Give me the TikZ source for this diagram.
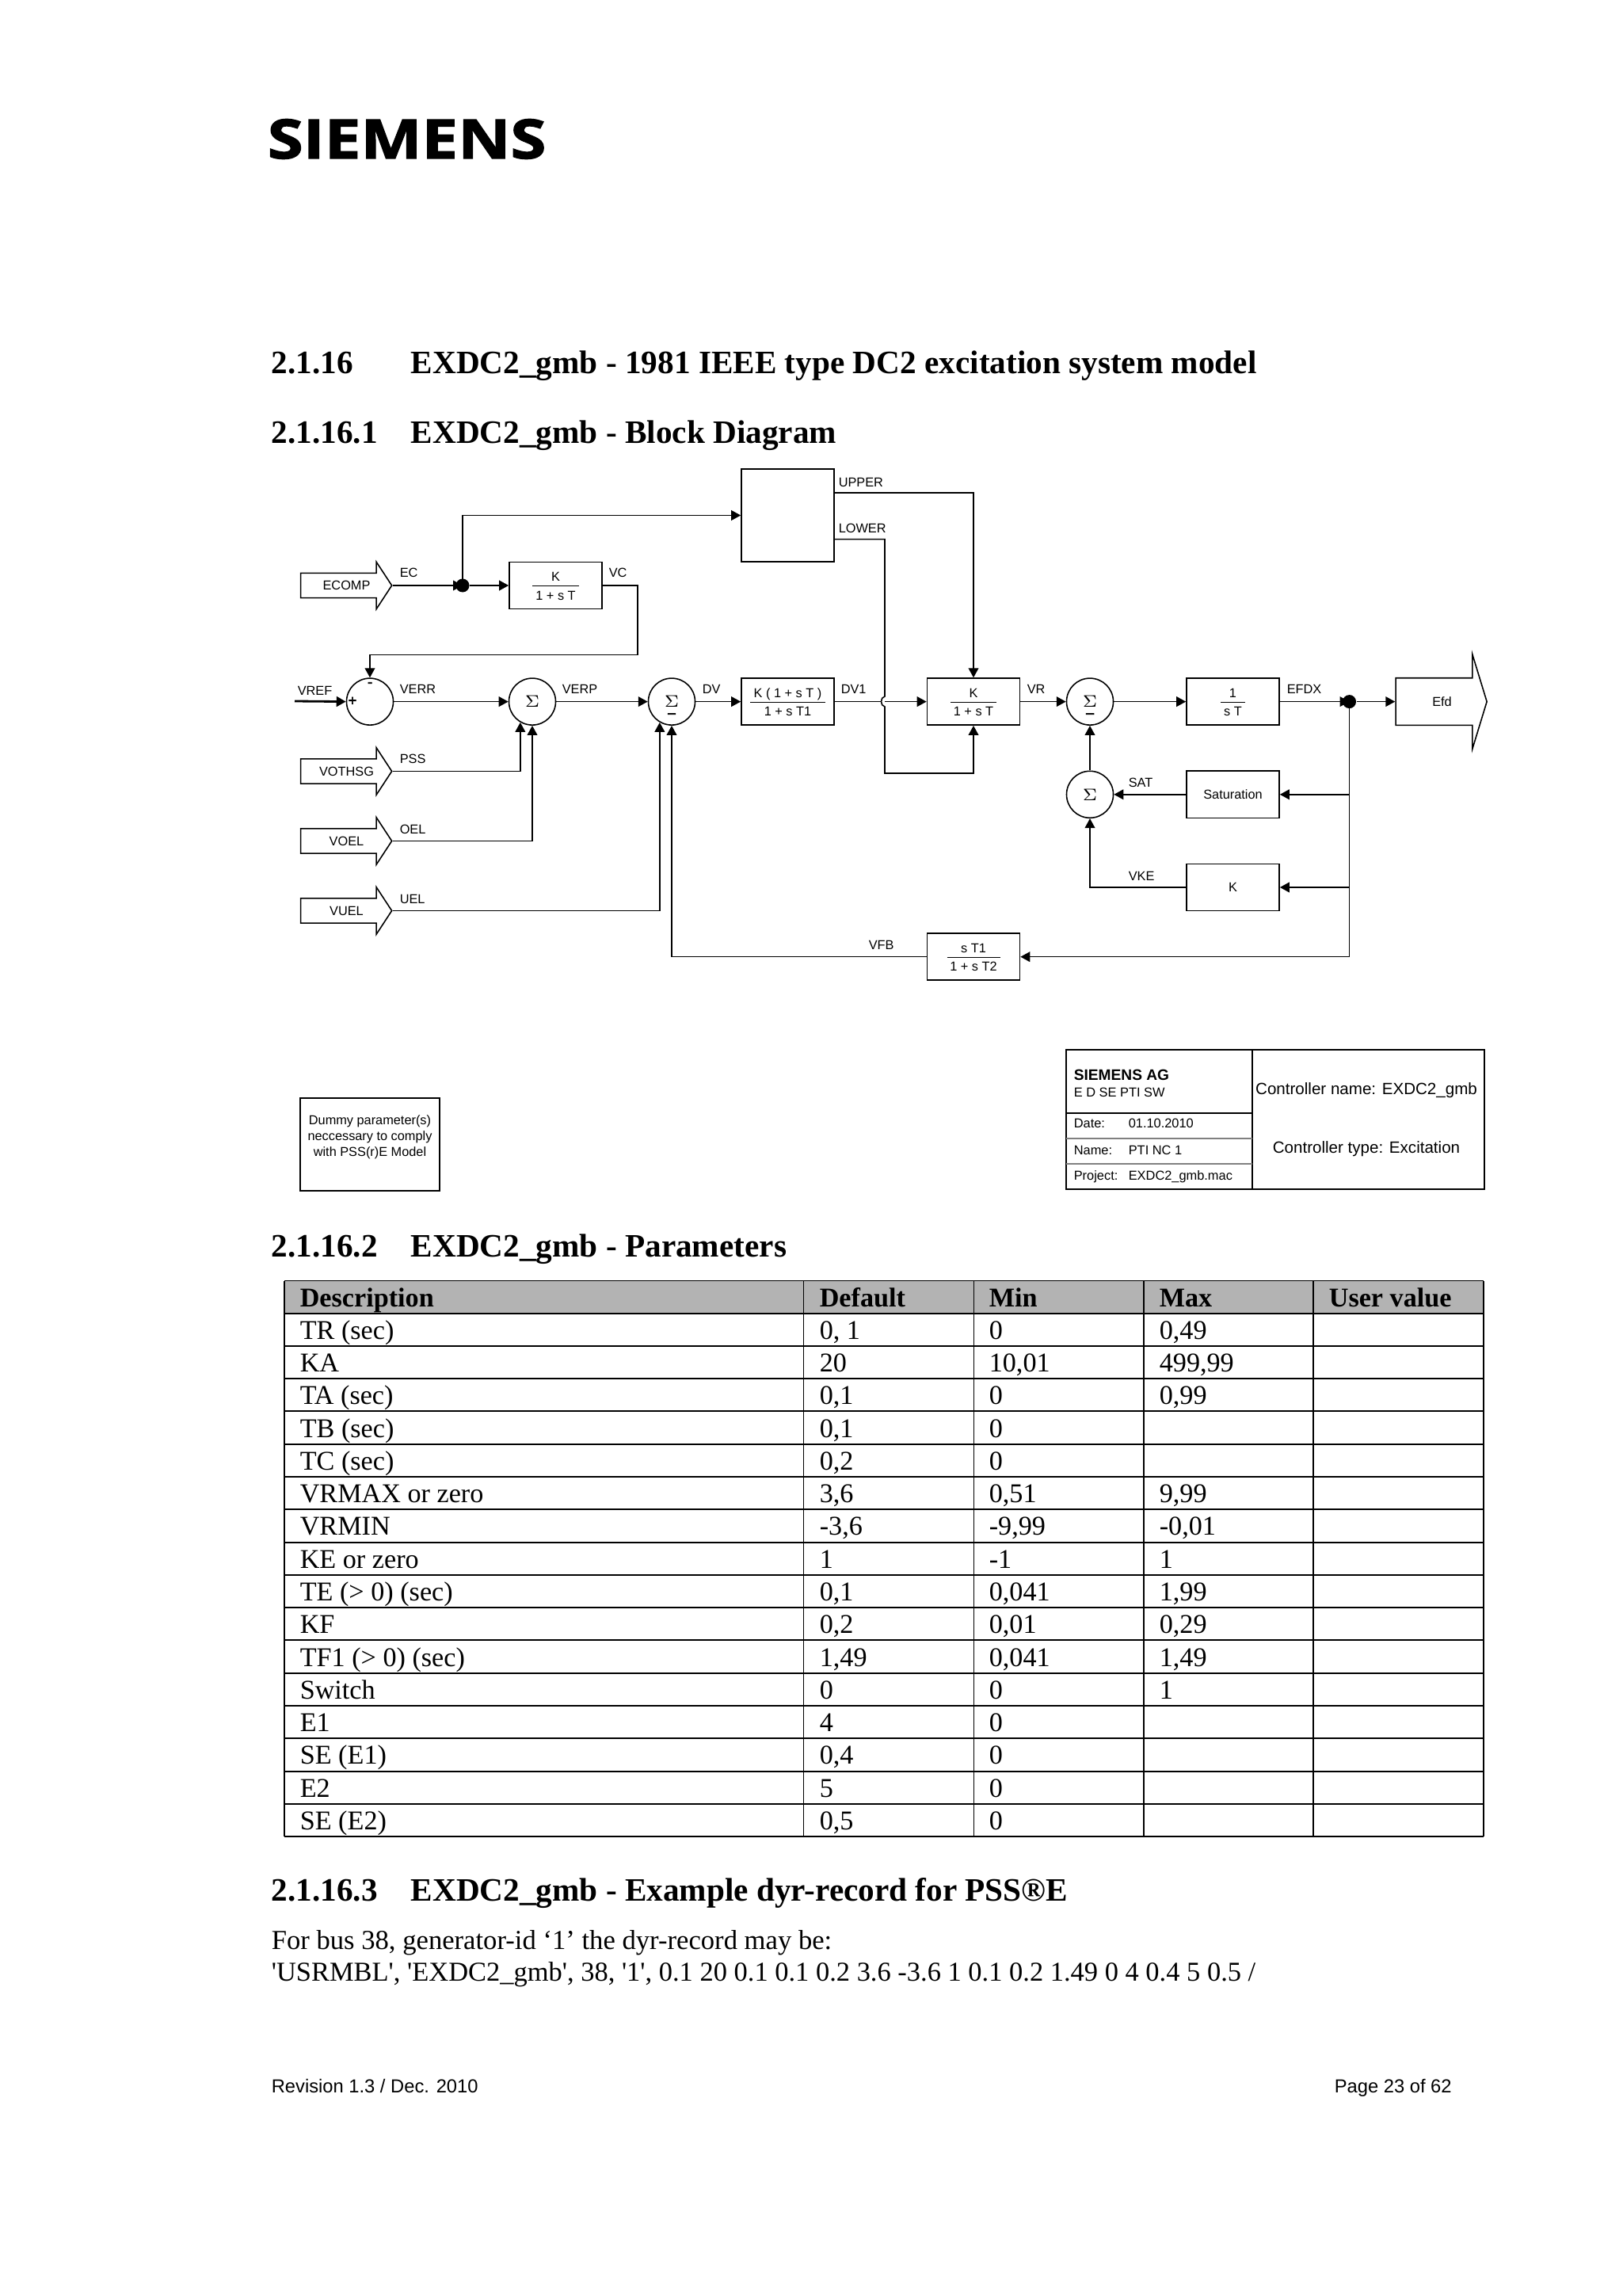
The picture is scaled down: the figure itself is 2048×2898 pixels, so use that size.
\documentclass[tikz,border=0pt]{standalone}
\usepackage{fontspec}
\setmainfont{Liberation Serif}
\setsansfont{Liberation Sans}
\newfontfamily\plainserif{Liberation Serif}
\newfontfamily\logofont[FakeStretch=1.19,FakeBold=2]{Open Sans}
\newfontfamily\signfont[FakeBold=4]{Liberation Sans}
\usetikzlibrary{arrows.meta, positioning, calc, shapes.arrows}
\definecolor{headgray}{HTML}{B3B3B3}

\newcommand{\blockratio}[3]{\vbox{\hsize=#1\offinterlineskip
  \kern3.56pt\hbox to #1{\hss\smash{#2}\hss}\kern1.56pt\hrule height .42pt\kern4.7pt
  \hbox to #1{\hss\smash{#3}\hss}}}

\begin{document}
\begin{tikzpicture}[
    x=0.01cm, y=-0.01cm,
    line width=0.45pt,
    sig/.style={font=\sffamily\fontsize{4.64}{5.8}\selectfont},
    lab/.style={sig, anchor=base west, inner sep=0pt},
    block/.style={draw, sig, inner sep=0pt, minimum width=1.17cm, minimum height=0.59cm},
    summer/.style={draw, circle, inner sep=0pt, minimum size=0.59cm,
                   font=\plainserif\fontsize{6}{7}\selectfont},
    joint/.style={fill=black, circle, inner sep=0pt, minimum size=0.17cm},
    port/.style={draw, sig, single arrow, inner xsep=0pt, inner ysep=0.089cm, text height=0.117cm, text depth=0pt,
                 minimum height=1.15cm, single arrow head extend=0.143cm, single arrow tip angle=113.5,
                 execute at begin node=\kern0.11cm\relax},
    signmark/.style={inner sep=0pt, font=\signfont\fontsize{5}{6}\selectfont},
    head/.style={anchor=base west, inner sep=0pt, font=\bfseries\fontsize{11.73}{13}\selectfont},
    cell/.style={anchor=base west, inner sep=0pt, font=\fontsize{9.72}{11}\selectfont},
    foot/.style={anchor=base west, inner sep=0pt, font=\sffamily\fontsize{6.75}{8}\selectfont},
    stamp/.style={anchor=base west, inner sep=0pt, font=\sffamily\fontsize{4.66}{5.8}\selectfont},
    >={Triangle[length=3.4pt,width=3.6pt]},
]
\useasboundingbox (0,0) rectangle (2048,2898);

% --- page head -------------------------------------------------------------
\node[anchor=base west, inner sep=0pt, font=\logofont\bfseries\fontsize{19.5}{20}\selectfont] (logo) at (337,200) {SIEMENS};
\node[head] (secnum)  at (342,471.5) {2.1.16};
\node[head] (sectxt)  at (518,471.5) {EXDC2\_gmb - 1981 IEEE type DC2 excitation system model};
\node[head] (diagnum) at (342,559.5) {2.1.16.1};
\node[head] (diagtxt) at (518,559.5) {EXDC2\_gmb - Block Diagram};

% --- block diagram: blocks ---------------------------------------------------
\node[port] (ecomp)  at (432,739) {ECOMP};
\node[port] (vothsg) at (432,973.5) {VOTHSG};
\node[port] (voel)   at (432,1061.5) {VOEL};
\node[port] (vuel)   at (432,1149.5) {VUEL};
\node[port, inner ysep=0.2315cm, single arrow head extend=0.3cm, single arrow tip angle=146] (efd) at (1815,885.6) {Efd};

\node[block, minimum height=1.17cm] (limiter) at (994.5,650.5) {};
\node[block] (kvc)  at (701.5,739) {\blockratio{0.58cm}{K}{1 + s T}};
\node[block] (lead) at (994.5,885.6) {\blockratio{0.94cm}{K ( 1 + s T )}{1 + s T1}};
\node[block] (kreg) at (1229,885.6) {\blockratio{0.58cm}{K}{1 + s T}};
\node[block] (intg) at (1556.5,885.6) {\blockratio{0.31cm}{1}{s T}};
\node[block] (sat)  at (1556.5,1002.8) {Saturation};
\node[block] (kexc) at (1556.5,1120) {K};
\node[block] (fbk)  at (1229,1207.7) {\blockratio{0.67cm}{s T1}{1 + s T2}};

\node[summer] (verr) at (467,885.6) {};
\node[summer] (sumA) at (672,885.6) {$\Sigma$};
\node[summer] (sumB) at (848,885.6) {$\Sigma$};
\node[summer] (sumC) at (1376,885.6) {$\Sigma$};
\node[summer] (sumD) at (1376,1002.8) {$\Sigma$};
\node[signmark] (mminus) at (467,864) {-};
\node[signmark] (mplus)  at (445,885) {+};
\node[signmark] (mB)     at (848,903) {–};
\node[signmark] (mC)     at (1376,903) {–};

\node[joint] (ecdot)  at (584,739) {};
\node[joint] (efddot) at (1703.5,885.6) {};

% --- block diagram: connectors -----------------------------------------------
\coordinate (vcturn)  at (805,826.7);
\coordinate (vrefin)  at (372,885);
\coordinate (upout)   at (1053,622);
\coordinate (lowout)  at (1053,680.6);
\coordinate (lowdown) at (1117,680.6);
\coordinate (hoptop)  at (1117,879);
\coordinate (hopbot)  at (1117,892);
\coordinate (lowturn) at (1117,976);
\coordinate (hopin)   at (1113,885.6);
\coordinate (hopout)  at (1117,885.6);

\draw[->] (ecomp.tip) -- (ecdot.center);
\draw[->] (ecdot) -- (kvc);
\draw[->] (ecdot.center) |- (limiter);
\draw[->] (kvc.east) -| (vcturn) -| (verr.north);
\draw[->, line width=0.8pt] (vrefin) -- (verr.west);
\draw[->] (verr) -- (sumA);
\draw[->] (sumA) -- (sumB);
\draw[->] (sumB) -- (lead);
\draw (lead.east) -- (hopin);
\draw[->] (hopout) -- (kreg);
\draw[->] (kreg) -- (sumC);
\draw[->] (sumC) -- (intg);
\draw[->] (intg.east) -- (efddot.center);
\draw[->] (efddot) -- (efd.tail);
\draw[->] (upout) -| (kreg.north);
\draw[->] (lowout) -- (lowdown) -- (hoptop) .. controls (1111,880) and (1111,891) .. (hopbot) -- (lowturn) -| (kreg.south);
\draw[->] (vothsg.tip) -| (sumA.240);
\draw[->] (voel.tip) -| (sumA.south);
\draw[->] (vuel.tip) -| (sumB.240);
\draw[->] (sumD) -- (sumC);
\draw[->] (sat) -- (sumD);
\draw[->] (kexc.west) -| (sumD.south);
\draw[->] (efddot.center) |- (sat.east);
\draw[->] (efddot.center) |- (kexc.east);
\draw[->] (efddot.center) |- (fbk.east);
\draw[->] (fbk.west) -| (sumB.south);

% --- block diagram: signal names ---------------------------------------------
\node[lab] (lec)    at (504,729) {EC};
\node[lab] (lvc)    at (768,729) {VC};
\node[lab] (lupper) at (1058,614.7) {UPPER};
\node[lab] (llower) at (1058,673) {LOWER};
\node[lab] (lvref)  at (375,878) {VREF};
\node[lab] (lverr)  at (504,876) {VERR};
\node[lab] (lverp)  at (709,876) {VERP};
\node[lab] (ldv)    at (886,876) {DV};
\node[lab] (ldvone) at (1061,876) {DV1};
\node[lab] (lvr)    at (1296,876) {VR};
\node[lab] (lefdx)  at (1624,876) {EFDX};
\node[lab] (lpss)   at (504,964) {PSS};
\node[lab] (lsat)   at (1424,994) {SAT};
\node[lab] (loel)   at (504,1052) {OEL};
\node[lab] (lvke)   at (1424,1111) {VKE};
\node[lab] (luel)   at (504,1140) {UEL};
\node[lab] (lvfb)   at (1096,1198) {VFB};

% --- dummy note and title block ----------------------------------------------
\node[draw, sig, minimum width=1.76cm, minimum height=1.17cm] (dummy) at (467,1444.5) {};
\node[sig, inner sep=0pt] (dumA) at (467,1415) {Dummy parameter(s)};
\node[sig, inner sep=0pt] (dumB) at (467,1435) {neccessary to comply};
\node[sig, inner sep=0pt] (dumC) at (467,1455) {with PSS(r)E Model};

\draw[line width=0.7pt] (1346,1325) rectangle (1874,1501);
\draw (1581,1325) -- (1581,1501);
\draw (1346,1405) -- (1581,1405);
\draw[gray] (1346,1437) -- (1581,1437);
\draw[gray] (1346,1469) -- (1581,1469);
\node[stamp, font=\sffamily\bfseries\fontsize{5.45}{6.5}\selectfont] (firm) at (1355,1363) {SIEMENS AG};
\node[stamp] (dept)  at (1355,1384) {E D SE PTI SW};
\node[stamp] (dtag)  at (1355,1423) {Date:};
\node[stamp] (dval)  at (1424,1423) {01.10.2010};
\node[stamp] (ntag)  at (1355,1457) {Name:};
\node[stamp] (nval)  at (1424,1457) {PTI NC 1};
\node[stamp] (ptag)  at (1355,1489) {Project:};
\node[stamp] (pval)  at (1424,1489) {EXDC2\_gmb.mac};
\node[inner sep=0pt, font=\sffamily\fontsize{5.85}{7}\selectfont] (cname) at (1725,1376.5) {Controller name: EXDC2\_gmb};
\node[inner sep=0pt, font=\sffamily\fontsize{5.85}{7}\selectfont] (ctype) at (1725,1450.5) {Controller type: Excitation};

% --- parameter table ---------------------------------------------------------
\node[head] (parnum) at (342,1586) {2.1.16.2};
\node[head] (partxt) at (518,1586) {EXDC2\_gmb - Parameters};
\fill[headgray] (359,1616.5) rectangle (1872.5,1657.6);
\foreach \r in {0,...,17} \draw[line width=0.55pt] (359,{1616.5+41.1*min(\r,1)+41.28*max(\r-1,0)}) -- (1872.5,{1616.5+41.1*min(\r,1)+41.28*max(\r-1,0)});
\foreach \c in {359,1014.5,1229.5,1444,1658,1872.5} \draw[line width=0.55pt] (\c,1616.5) -- (\c,2318);
\foreach \c/\t [count=\i] in {378/Description,1034/Default,1248/Min,1463/Max,1677/User value}
  \node[cell, font=\bfseries\fontsize{9.72}{11}\selectfont] (top\i) at (\c,1649.3) {\t};
\foreach \d/\u/\v/\w [count=\r] in {
    TR (sec)/{0, 1}/0/{0,49}, KA/20/{10,01}/{499,99}, TA (sec)/{0,1}/0/{0,99},
    TB (sec)/{0,1}/0/, TC (sec)/{0,2}/0/, VRMAX or zero/{3,6}/{0,51}/{9,99},
    VRMIN/{-3,6}/{-9,99}/{-0,01}, KE or zero/1/-1/1, TE (> 0) (sec)/{0,1}/{0,041}/{1,99},
    KF/{0,2}/{0,01}/{0,29}, TF1 (> 0) (sec)/{1,49}/{0,041}/{1,49}, Switch/0/0/1,
    E1/4/0/, SE (E1)/{0,4}/0/, E2/5/0/, SE (E2)/{0,5}/0/} {
  \node[cell] (d\r) at (378,{1657.6+41.28*(\r-1)+32.6}) {\d};
  \node[cell] (u\r) at (1034,{1657.6+41.28*(\r-1)+32.6}) {\u};
  \node[cell] (v\r) at (1248,{1657.6+41.28*(\r-1)+32.6}) {\v};
  \node[cell] (w\r) at (1463,{1657.6+41.28*(\r-1)+32.6}) {\w};
}

% --- record and footer -------------------------------------------------------
\node[head] (recnum) at (342,2399.5) {2.1.16.3};
\node[head] (rectxt) at (518,2399.5) {EXDC2\_gmb - Example dyr-record for PSS®E};
\node[cell, font=\fontsize{9.85}{11}\selectfont] (recA) at (342,2460) {For bus 38, generator-id ‘1’ the dyr-record may be:};
\node[cell, font=\plainserif\fontsize{9.8}{11}\selectfont] (recB) at (342,2500) {'USRMBL', 'EXDC2\_gmb', 38, '1', 0.1 20 0.1 0.1 0.2 3.6 -3.6 1 0.1 0.2 1.49 0 4 0.4 5 0.5 /};
\node[foot] (revis) at (342,2641) {Revision 1.3 / Dec. 2010};
\node[foot] (pageno) at (1684,2641) {Page 23 of 62};
\end{tikzpicture}
\end{document}
